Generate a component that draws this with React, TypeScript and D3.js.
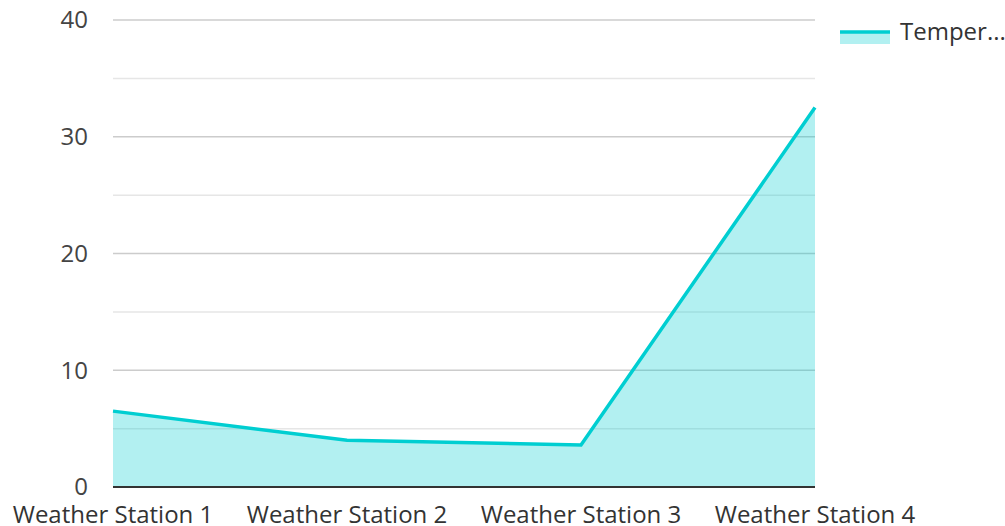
import React from "react";
import * as d3 from "d3";

const categories = ["Weather Station 1", "Weather Station 2", "Weather Station 3", "Weather Station 4"];
const temperature = [6.5, 4.0, 3.6, 32.5];
const yTicks = [0, 10, 20, 30, 40];
const yMinor = [5, 15, 25, 35];
const seriesName = "Temper...";

const W = 1005, H = 526;
const left = 113, right = 815, top = 20, bottom = 487;
const font = "'Open Sans', 'Noto Sans', sans-serif";

export default function App() {
  const x = d3.scalePoint<string>().domain(categories).range([left, right]);
  const y = d3.scaleLinear().domain([0, 40]).range([bottom, top]);
  const pts = categories.map((c, i) => [x(c) as number, y(temperature[i])] as [number, number]);
  const line = d3.line<[number, number]>().x(d => d[0]).y(d => d[1]);
  const area = d3.area<[number, number]>().x(d => d[0]).y0(y(0)).y1(d => d[1]);
  return (
    <svg width={W} height={H} style={{ position: "absolute", left: 0, top: 0 }}>
      {yMinor.map(t => (
        <line key={"m" + t} x1={left} x2={right} y1={y(t)} y2={y(t)} stroke="#e6e6e6" strokeWidth={1.5} />
      ))}
      {yTicks.filter(t => t !== 0).map(t => (
        <line key={"g" + t} x1={left} x2={right} y1={y(t)} y2={y(t)} stroke="#cccccc" strokeWidth={1.5} />
      ))}
      <path d={area(pts) || ""} fill="rgba(0,206,209,0.3)" />
      <path d={line(pts) || ""} fill="none" stroke="#00ced1" strokeWidth={3.5} />
      <line x1={left} x2={right} y1={y(0)} y2={y(0)} stroke="#333333" strokeWidth={2} />
      {yTicks.map(t => (
        <text key={"t" + t} x={88} y={y(t)} dy="0.35em" textAnchor="end" fontFamily={font} fontSize={24} fill="#444">
          {t}
        </text>
      ))}
      {categories.map(c => (
        <text key={c} x={x(c) as number} y={bottom + 28} dy="0.35em" textAnchor="middle" fontFamily={font} fontSize={24} fill="#333">
          {c}
        </text>
      ))}
      <rect x={840} y={32} width={50} height={12} fill="rgba(0,206,209,0.3)" />
      <line x1={840} x2={890} y1={32} y2={32} stroke="#00ced1" strokeWidth={3.5} />
      <text x={900} y={32} dy="0.35em" fontFamily={font} fontSize={24} fill="#333">{seriesName}</text>
    </svg>
  );
}
